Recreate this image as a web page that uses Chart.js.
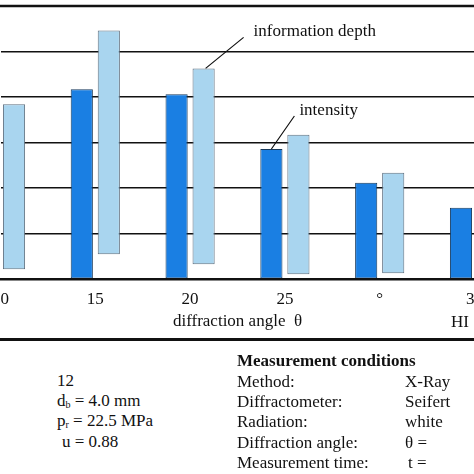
<!DOCTYPE html>
<html>
<head>
<meta charset="utf-8">
<script src="https://cdn.jsdelivr.net/npm/chart.js@4"></script>
<style>
	html, body { margin: 0; padding: 0; width: 474px; height: 474px; overflow: hidden; background: #fff; }
	body { position: relative; font-family: "Liberation Serif", serif; color: #111; }
	#wrap { position: absolute; left: -10px; top: 0; width: 495px; height: 338px; }
	#rule { position: absolute; left: 0; top: 338px; width: 474px; height: 3px; background: #111; }
	.t { position: absolute; font-size: 17px; white-space: nowrap; line-height: 20px; }
	sub { font-size: 10px; vertical-align: -2px; }
</style>
</head>
<body>
<div id="wrap"><canvas id="chart"></canvas></div>
<div class="t" style="left:451px;top:312px;">HI</div>
<div id="rule"></div>

<div class="t" style="left:57px;top:371px;">12</div>
<div class="t" style="left:57px;top:391px;">d<sub>b</sub> = 4.0 mm</div>
<div class="t" style="left:57px;top:411px;">p<sub>r</sub> = 22.5 MPa</div>
<div class="t" style="left:62px;top:432px;">u = 0.88</div>

<div class="t" style="left:237px;top:351px;font-weight:bold;">Measurement conditions</div>
<div class="t" style="left:237px;top:372px;">Method:</div>
<div class="t" style="left:237px;top:392px;">Diffractometer:</div>
<div class="t" style="left:237px;top:412px;">Radiation:</div>
<div class="t" style="left:237px;top:433px;">Diffraction angle:</div>
<div class="t" style="left:237px;top:453px;">Measurement time:</div>
<div class="t" style="left:405px;top:372px;">X-Ray</div>
<div class="t" style="left:405px;top:392px;">Seifert</div>
<div class="t" style="left:405px;top:412px;">white</div>
<div class="t" style="left:405px;top:433px;">θ = </div>
<div class="t" style="left:408px;top:453px;">t = </div>

<script>
// 衍射角（类别）
const angleLabels = ['10', '15', '20', '25', '°', '35'];
// 强度（深蓝，从0开始）
const intensity = [4.3, 4.17, 4.06, 2.86, 2.12, 1.57];
// 信息深度（浅蓝，浮动条）
const depthLow = [0.22, 0.55, 0.33, 0.11, 0.13, null];
const depthHigh = [3.84, 5.46, 4.63, 3.17, 2.34, null];

const depthData = depthLow.map((lo, i) => lo === null ? null : [lo, depthHigh[i]]);

// 上下边框线
const frameLines = {
	id: 'frameLines',
	afterDatasetsDraw(chart) {
		const c = chart.ctx;
		const a = chart.chartArea;
		const y = chart.scales.y;
		c.save();
		c.strokeStyle = '#111';
		c.lineWidth = 2.5;
		c.beginPath();
		c.moveTo(a.left - 20, y.getPixelForValue(6));
		c.lineTo(a.right + 20, y.getPixelForValue(6));
		c.moveTo(a.left - 20, y.getPixelForValue(0));
		c.lineTo(a.right + 20, y.getPixelForValue(0));
		c.stroke();
		c.restore();
	}
};

// 引线标注
const leaderPlugin = {
	id: 'leaders',
	afterDatasetsDraw(chart) {
		const c = chart.ctx;
		const light = chart.getDatasetMeta(1).data[2];
		const dark = chart.getDatasetMeta(0).data[3];
		c.save();
		c.strokeStyle = '#111';
		c.lineWidth = 1.2;
		c.beginPath();
		c.moveTo(light.x + 2, light.y);
		c.lineTo(light.x + 40, light.y - 31);
		c.moveTo(dark.x, dark.y);
		c.lineTo(dark.x + 23, dark.y - 33);
		c.stroke();
		c.fillStyle = '#111';
		c.font = '17px "Liberation Serif"';
		c.textBaseline = 'middle';
		c.fillText('information depth', light.x + 50, light.y - 37);
		c.fillText('intensity', dark.x + 28, dark.y - 38);
		c.restore();
	}
};

new Chart(document.getElementById('chart').getContext('2d'), {
	type: 'bar',
	data: {
		labels: angleLabels,
		datasets: [
			{
				label: 'intensity',
				data: intensity,
				backgroundColor: '#1a7fe3',
				borderColor: '#173a5c',
				borderWidth: 1,
				borderSkipped: false,
				categoryPercentage: 0.57,
				barPercentage: 0.82
			},
			{
				label: 'information depth',
				data: depthData,
				backgroundColor: '#a9d5ef',
				borderColor: '#5f7080',
				borderWidth: 1,
				borderSkipped: false,
				categoryPercentage: 0.57,
				barPercentage: 0.82
			}
		]
	},
	options: {
		responsive: true,
		maintainAspectRatio: false,
		animation: false,
		layout: { padding: { top: 6, left: 0, right: 0, bottom: 0 } },
		plugins: { legend: { display: false }, tooltip: { enabled: false } },
		scales: {
			x: {
				offset: false,
				grid: { display: false },
				ticks: { color: '#111', font: { family: 'Liberation Serif', size: 17 }, padding: 2, maxRotation: 0, autoSkip: false },
				title: { display: true, text: 'diffraction angle  θ', color: '#111', font: { family: 'Liberation Serif', size: 17 }, padding: { top: 0, bottom: 6 } }
			},
			y: {
				min: 0,
				max: 6,
				ticks: { display: false, stepSize: 1 },
				border: { display: false },
				grid: { color: '#111', lineWidth: 1.5, drawTicks: false }
			}
		}
	},
	plugins: [frameLines, leaderPlugin]
});
</script>
</body>
</html>
